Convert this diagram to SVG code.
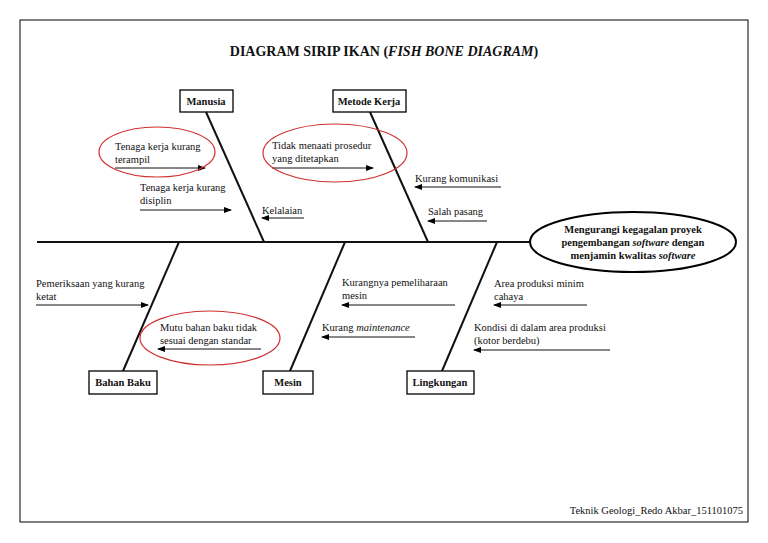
<svg xmlns="http://www.w3.org/2000/svg" width="768" height="543" viewBox="0 0 768 543" font-family="'Liberation Serif','Times New Roman','DejaVu Serif',serif">
<defs>
<marker id="ah" markerWidth="8" markerHeight="6" refX="7" refY="3" orient="auto" markerUnits="userSpaceOnUse"><path d="M0,0 L8,3 L0,6 Z" fill="#000"/></marker>
</defs>
<style>
text{font-family:'Liberation Serif','Times New Roman','DejaVu Serif',serif;font-size:10.5px;fill:#111}
.b{font-weight:bold}
.box{fill:#fff;stroke:#000;stroke-width:1.3}
.bone{stroke:#111;stroke-width:2;fill:none}
.ar{stroke:#111;stroke-width:1;marker-end:url(#ah)}
.red{fill:none;stroke:#d03030;stroke-width:1.2}
</style>
<rect x="0" y="0" width="768" height="543" fill="#fff"/>
<rect x="20" y="20" width="728" height="502" fill="none" stroke="#000" stroke-width="1"/>
<text x="384" y="56" text-anchor="middle" class="b" style="font-size:14px">DIAGRAM SIRIP IKAN (<tspan font-style="italic">FISH BONE DIAGRAM</tspan>)</text>
<g id="connectors">
<line class="bone" x1="37" y1="242" x2="532" y2="242"/>
<line class="bone" x1="206" y1="112" x2="264" y2="242"/>
<line class="bone" x1="370" y1="112" x2="428" y2="242"/>
<line class="bone" x1="179" y1="242" x2="123" y2="371"/>
<line class="bone" x1="345" y1="242" x2="290" y2="371"/>
<line class="bone" x1="497" y1="242" x2="442" y2="371"/>
<line class="ar" x1="115" y1="168" x2="205" y2="168"/>
<line class="ar" x1="140" y1="210" x2="231" y2="210"/>
<line class="ar" x1="304" y1="218" x2="262" y2="218"/>
<line class="ar" x1="272" y1="168" x2="373" y2="168"/>
<line class="ar" x1="501" y1="187" x2="415" y2="187"/>
<line class="ar" x1="487" y1="221" x2="428" y2="221"/>
<line class="ar" x1="36" y1="305" x2="148" y2="305"/>
<line class="ar" x1="261" y1="349" x2="158" y2="349"/>
<line class="ar" x1="455" y1="305" x2="342" y2="305"/>
<line class="ar" x1="415" y1="337" x2="322" y2="337"/>
<line class="ar" x1="587" y1="305" x2="494" y2="305"/>
<line class="ar" x1="610" y1="350" x2="474" y2="350"/>
</g>
<g id="head"><ellipse cx="633" cy="242" rx="103" ry="30" fill="#fff" stroke="#000" stroke-width="2"/>
<text x="633" y="233" text-anchor="middle" class="b">Mengurangi kegagalan proyek</text>
<text x="633" y="246" text-anchor="middle" class="b">pengembangan <tspan font-style="italic">software</tspan> dengan</text>
<text x="633" y="259" text-anchor="middle" class="b">menjamin kwalitas <tspan font-style="italic">software</tspan></text></g>
<g id="manusia"><rect class="box" x="180" y="90" width="53" height="22"/><text x="206" y="105" text-anchor="middle" class="b">Manusia</text></g>
<g id="metode"><rect class="box" x="333" y="90" width="73" height="22"/><text x="369" y="105" text-anchor="middle" class="b">Metode Kerja</text></g>
<g id="bahan"><rect class="box" x="89" y="371" width="68" height="23"/><text x="123" y="386" text-anchor="middle" class="b">Bahan Baku</text></g>
<g id="mesin"><rect class="box" x="263" y="371" width="50" height="23"/><text x="288" y="386" text-anchor="middle" class="b">Mesin</text></g>
<g id="lingkungan"><rect class="box" x="407" y="371" width="67" height="23"/><text x="440" y="386" text-anchor="middle" class="b">Lingkungan</text></g>
<g id="causes">
<ellipse class="red" cx="157" cy="152" rx="58" ry="25"/>
<text x="115" y="150">Tenaga kerja kurang</text><text x="115" y="163">terampil</text>
<text x="140" y="191">Tenaga kerja kurang</text><text x="140" y="204">disiplin</text>
<text x="262" y="214">Kelalaian</text>
<ellipse class="red" cx="335" cy="153" rx="72" ry="29"/>
<text x="272" y="149">Tidak menaati prosedur</text><text x="272" y="162">yang ditetapkan</text>
<text x="415" y="182">Kurang komunikasi</text>
<text x="428" y="215">Salah pasang</text>
<text x="36" y="287">Pemeriksaan yang kurang</text><text x="36" y="300">ketat</text>
<ellipse class="red" cx="210" cy="338" rx="70" ry="27"/>
<text x="160" y="331">Mutu bahan baku tidak</text><text x="160" y="344">sesuai dengan standar</text>
<text x="342" y="286">Kurangnya pemeliharaan</text><text x="342" y="299">mesin</text>
<text x="322" y="331">Kurang <tspan font-style="italic">maintenance</tspan></text>
<text x="494" y="287">Area produksi minim</text><text x="494" y="300">cahaya</text>
<text x="474" y="331">Kondisi di dalam area produksi</text><text x="474" y="344">(kotor berdebu)</text>
</g>
<text x="743" y="514" text-anchor="end">Teknik Geologi_Redo Akbar_151101075</text>
</svg>
